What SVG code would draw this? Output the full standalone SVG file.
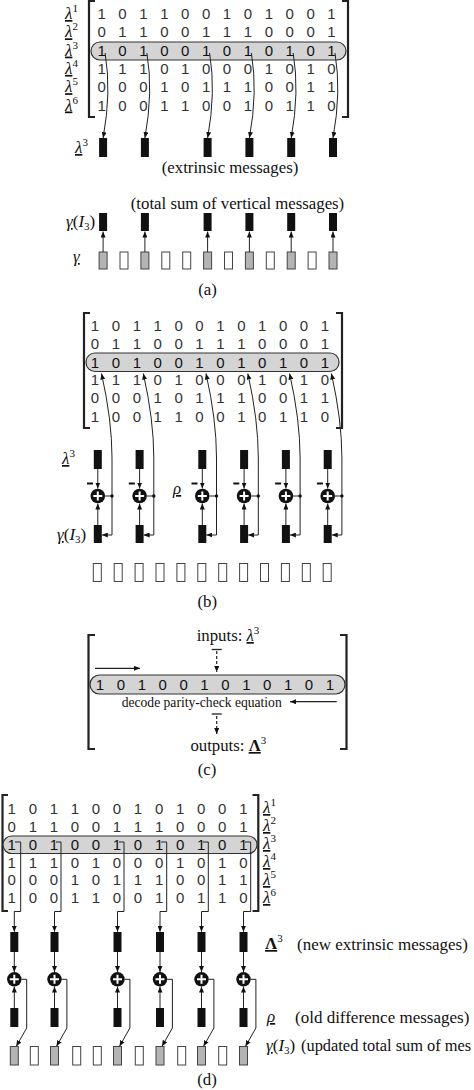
<svg xmlns="http://www.w3.org/2000/svg" width="474" height="1090" viewBox="0 0 474 1090">
<defs>
<style>
.dg{font-family:"Liberation Sans",Arial,sans-serif;font-size:15px;fill:#333;text-anchor:middle}
.lb{font-family:"Liberation Serif","Times New Roman",serif;font-size:17px;fill:#111}
.it{font-style:italic}
.ul{text-decoration:underline}
.cap{font-family:"Liberation Serif","Times New Roman",serif;font-size:16.8px;fill:#111;text-anchor:middle}
.br{fill:none;stroke:#222;stroke-width:2.2}
.hl{fill:#d4d4d4;stroke:#333;stroke-width:1.2}
.ln{fill:none;stroke:#222;stroke-width:1}
.ar{fill:none;stroke:#222;stroke-width:1;marker-end:url(#ah)}
.da{fill:none;stroke:#222;stroke-width:1.2;stroke-dasharray:3 2;marker-end:url(#ah)}
.bk{fill:#111}
.gr{fill:#b4b4b4;stroke:#444;stroke-width:1}
.wh{fill:#fff;stroke:#444;stroke-width:1}
.ad{fill:#111}
.pl{stroke:#fff;stroke-width:2}
</style>
<marker id="ah" viewBox="0 0 6 5" refX="6" refY="2.5" markerWidth="6" markerHeight="5" markerUnits="userSpaceOnUse" orient="auto"><path d="M0,0 L6,2.5 L0,5 z" fill="#111"/></marker>
</defs>
<rect width="474" height="1090" fill="#fff"/>

<!-- ================= PANEL A ================= -->
<g id="panel-a">
<g id="a-matrix">
<path class="br" d="M95,1 H89 V117 H95"/>
<path class="br" d="M342,1 H348 V117 H342"/>
<rect class="hl" x="91" y="42" width="255" height="18" rx="9"/>
<text class="dg" x="101.6 122.5 143.4 164.3 185.2 206.1 227 247.9 268.8 289.7 310.6 331.5" y="19">101100101001</text>
<text class="dg" x="101.6 122.5 143.4 164.3 185.2 206.1 227 247.9 268.8 289.7 310.6 331.5" y="37.3">011001110001</text>
<text class="dg" x="101.6 122.5 143.4 164.3 185.2 206.1 227 247.9 268.8 289.7 310.6 331.5" y="55.6" style="fill:#111">101001010101</text>
<text class="dg" x="101.6 122.5 143.4 164.3 185.2 206.1 227 247.9 268.8 289.7 310.6 331.5" y="73.9">111010001010</text>
<text class="dg" x="101.6 122.5 143.4 164.3 185.2 206.1 227 247.9 268.8 289.7 310.6 331.5" y="92.2">000101110011</text>
<text class="dg" x="101.6 122.5 143.4 164.3 185.2 206.1 227 247.9 268.8 289.7 310.6 331.5" y="110.5">100110010110</text>
</g>
<g id="a-row-labels">
<text class="lb" x="65" y="19"><tspan class="it ul">λ</tspan><tspan font-size="11" dy="-7">1</tspan></text>
<text class="lb" x="65" y="37.3"><tspan class="it ul">λ</tspan><tspan font-size="11" dy="-7">2</tspan></text>
<text class="lb" x="65" y="55.6"><tspan class="it ul">λ</tspan><tspan font-size="11" dy="-7">3</tspan></text>
<text class="lb" x="65" y="73.9"><tspan class="it ul">λ</tspan><tspan font-size="11" dy="-7">4</tspan></text>
<text class="lb" x="65" y="92.2"><tspan class="it ul">λ</tspan><tspan font-size="11" dy="-7">5</tspan></text>
<text class="lb" x="65" y="110.5"><tspan class="it ul">λ</tspan><tspan font-size="11" dy="-7">6</tspan></text>
</g>
<g id="a-extrinsic">
<text class="lb" x="75" y="153"><tspan class="it ul">λ</tspan><tspan font-size="11" dy="-7">3</tspan></text>
<rect class="bk" x="99.1" y="138" width="8" height="19"/>
<rect class="bk" x="140.9" y="138" width="8" height="19"/>
<rect class="bk" x="203.6" y="138" width="8" height="19"/>
<rect class="bk" x="245.4" y="138" width="8" height="19"/>
<rect class="bk" x="287.2" y="138" width="8" height="19"/>
<rect class="bk" x="329" y="138" width="8" height="19"/>
<text class="cap" x="230" y="173">(extrinsic messages)</text>
</g>
<g id="a-total">
<text class="cap" x="237.5" y="209">(total sum of vertical messages)</text>
<text class="lb" x="66" y="227"><tspan class="it ul">γ</tspan>(<tspan class="it">I</tspan><tspan font-size="11" dy="3">3</tspan><tspan dy="-3">)</tspan></text>
<rect class="bk" x="99.1" y="213" width="8" height="18"/>
<rect class="bk" x="140.9" y="213" width="8" height="18"/>
<rect class="bk" x="203.6" y="213" width="8" height="18"/>
<rect class="bk" x="245.4" y="213" width="8" height="18"/>
<rect class="bk" x="287.2" y="213" width="8" height="18"/>
<rect class="bk" x="329" y="213" width="8" height="18"/>
</g>
<g id="a-gamma">
<text class="lb" x="73" y="262"><tspan class="it ul">γ</tspan></text>
<rect class="gr" x="99.1" y="252" width="8" height="17"/>
<rect class="wh" x="120" y="252" width="8" height="17"/>
<rect class="gr" x="140.9" y="252" width="8" height="17"/>
<rect class="wh" x="161.8" y="252" width="8" height="17"/>
<rect class="wh" x="182.7" y="252" width="8" height="17"/>
<rect class="gr" x="203.6" y="252" width="8" height="17"/>
<rect class="wh" x="224.5" y="252" width="8" height="17"/>
<rect class="gr" x="245.4" y="252" width="8" height="17"/>
<rect class="wh" x="266.3" y="252" width="8" height="17"/>
<rect class="gr" x="287.2" y="252" width="8" height="17"/>
<rect class="wh" x="308.1" y="252" width="8" height="17"/>
<rect class="gr" x="329" y="252" width="8" height="17"/>
</g>
<g id="a-connectors">
<path class="ar" d="M105.1,53 Q111.6,92 103.1,138"/>
<path class="ar" d="M146.9,53 Q153.4,92 144.9,138"/>
<path class="ar" d="M209.6,53 Q216.1,92 207.6,138"/>
<path class="ar" d="M251.4,53 Q257.9,92 249.4,138"/>
<path class="ar" d="M293.2,53 Q299.7,92 291.2,138"/>
<path class="ar" d="M335,53 Q341.5,92 333,138"/>
<path class="ar" d="M103.1,252 V231.5"/>
<path class="ar" d="M144.9,252 V231.5"/>
<path class="ar" d="M207.6,252 V231.5"/>
<path class="ar" d="M249.4,252 V231.5"/>
<path class="ar" d="M291.2,252 V231.5"/>
<path class="ar" d="M333,252 V231.5"/>
</g>
<text class="cap" x="207.5" y="295">(a)</text>
</g>

<!-- ================= PANEL B ================= -->
<g id="panel-b">
<g id="b-matrix">
<path class="br" d="M90,313 H84 V428 H90"/>
<path class="br" d="M336,313 H342 V428 H336"/>
<rect class="hl" x="86" y="353" width="253" height="18.5" rx="9"/>
<text class="dg" x="95 115.9 136.8 157.7 178.6 199.5 220.4 241.3 262.2 283.1 304 324.9" y="330.5">101100101001</text>
<text class="dg" x="95 115.9 136.8 157.7 178.6 199.5 220.4 241.3 262.2 283.1 304 324.9" y="348.7">011001110001</text>
<text class="dg" x="95 115.9 136.8 157.7 178.6 199.5 220.4 241.3 262.2 283.1 304 324.9" y="367.5" style="fill:#111">101001010101</text>
<text class="dg" x="95 115.9 136.8 157.7 178.6 199.5 220.4 241.3 262.2 283.1 304 324.9" y="385.1">111010001010</text>
<text class="dg" x="95 115.9 136.8 157.7 178.6 199.5 220.4 241.3 262.2 283.1 304 324.9" y="403.3">000101110011</text>
<text class="dg" x="95 115.9 136.8 157.7 178.6 199.5 220.4 241.3 262.2 283.1 304 324.9" y="421.5">100110010110</text>
</g>
<g id="b-labels">
<text class="lb" x="62" y="464"><tspan class="it ul">λ</tspan><tspan font-size="11" dy="-7">3</tspan></text>
<text class="lb" x="173" y="494"><tspan class="it ul">ρ</tspan></text>
<text class="lb" x="57" y="540"><tspan class="it ul">γ</tspan>(<tspan class="it">I</tspan><tspan font-size="11" dy="3">3</tspan><tspan dy="-3">)</tspan></text>
</g>
<g id="b-lambda-boxes">
<rect class="bk" x="93.8" y="450" width="8" height="19"/>
<rect class="bk" x="135.6" y="450" width="8" height="19"/>
<rect class="bk" x="198.3" y="450" width="8" height="19"/>
<rect class="bk" x="240.1" y="450" width="8" height="19"/>
<rect class="bk" x="281.9" y="450" width="8" height="19"/>
<rect class="bk" x="323.7" y="450" width="8" height="19"/>
</g>
<g id="b-adders">
<rect class="bk" x="87" y="482.5" width="6" height="2"/>
<rect class="bk" x="128.8" y="482.5" width="6" height="2"/>
<rect class="bk" x="191.5" y="482.5" width="6" height="2"/>
<rect class="bk" x="233.3" y="482.5" width="6" height="2"/>
<rect class="bk" x="275.1" y="482.5" width="6" height="2"/>
<rect class="bk" x="316.9" y="482.5" width="6" height="2"/>
<circle class="ad" cx="97.8" cy="496" r="7.3"/><path class="pl" d="M93.3,496 H102.3 M97.8,491.5 V500.5"/>
<circle class="ad" cx="139.6" cy="496" r="7.3"/><path class="pl" d="M135.1,496 H144.1 M139.6,491.5 V500.5"/>
<circle class="ad" cx="202.3" cy="496" r="7.3"/><path class="pl" d="M197.8,496 H206.8 M202.3,491.5 V500.5"/>
<circle class="ad" cx="244.1" cy="496" r="7.3"/><path class="pl" d="M239.6,496 H248.6 M244.1,491.5 V500.5"/>
<circle class="ad" cx="285.9" cy="496" r="7.3"/><path class="pl" d="M281.4,496 H290.4 M285.9,491.5 V500.5"/>
<circle class="ad" cx="327.7" cy="496" r="7.3"/><path class="pl" d="M323.2,496 H332.2 M327.7,491.5 V500.5"/>
</g>
<g id="b-gamma-boxes">
<rect class="bk" x="93.8" y="525" width="8" height="18"/>
<rect class="bk" x="135.6" y="525" width="8" height="18"/>
<rect class="bk" x="198.3" y="525" width="8" height="18"/>
<rect class="bk" x="240.1" y="525" width="8" height="18"/>
<rect class="bk" x="281.9" y="525" width="8" height="18"/>
<rect class="bk" x="323.7" y="525" width="8" height="18"/>
</g>
<g id="b-bottom-boxes">
<rect class="wh" x="93.3" y="563.5" width="8" height="18"/>
<rect class="wh" x="114.2" y="563.5" width="8" height="18"/>
<rect class="wh" x="135.1" y="563.5" width="8" height="18"/>
<rect class="wh" x="156" y="563.5" width="8" height="18"/>
<rect class="wh" x="176.9" y="563.5" width="8" height="18"/>
<rect class="wh" x="197.8" y="563.5" width="8" height="18"/>
<rect class="wh" x="218.7" y="563.5" width="8" height="18"/>
<rect class="wh" x="239.6" y="563.5" width="8" height="18"/>
<rect class="wh" x="260.5" y="563.5" width="8" height="18"/>
<rect class="wh" x="281.4" y="563.5" width="8" height="18"/>
<rect class="wh" x="302.3" y="563.5" width="8" height="18"/>
<rect class="wh" x="323.2" y="563.5" width="8" height="18"/>
</g>
<g id="b-connectors">
<path class="ar" d="M112,496 V458 Q112,420 101.5,373.5"/>
<path class="ar" d="M153.8,496 V458 Q153.8,420 143.3,373.5"/>
<path class="ar" d="M216.5,496 V458 Q216.5,420 206,373.5"/>
<path class="ar" d="M258.3,496 V458 Q258.3,420 247.8,373.5"/>
<path class="ar" d="M300.1,496 V458 Q300.1,420 289.6,373.5"/>
<path class="ar" d="M341.9,496 V458 Q341.9,420 331.4,373.5"/>
<path class="ar" d="M112,496 V535 H101.8"/>
<path class="ar" d="M153.8,496 V535 H143.6"/>
<path class="ar" d="M216.5,496 V535 H206.3"/>
<path class="ar" d="M258.3,496 V535 H248.1"/>
<path class="ar" d="M300.1,496 V535 H289.9"/>
<path class="ar" d="M341.9,496 V535 H331.7"/>
<path class="ln" d="M105.1,496 H112 M146.9,496 H153.8 M209.6,496 H216.5 M251.4,496 H258.3 M293.2,496 H300.1 M335,496 H341.9"/>
<circle class="bk" cx="112" cy="496" r="1.7"/>
<circle class="bk" cx="153.8" cy="496" r="1.7"/>
<circle class="bk" cx="216.5" cy="496" r="1.7"/>
<circle class="bk" cx="258.3" cy="496" r="1.7"/>
<circle class="bk" cx="300.1" cy="496" r="1.7"/>
<circle class="bk" cx="341.9" cy="496" r="1.7"/>
<path class="ar" d="M97.8,469 V488.5"/>
<path class="ar" d="M139.6,469 V488.5"/>
<path class="ar" d="M202.3,469 V488.5"/>
<path class="ar" d="M244.1,469 V488.5"/>
<path class="ar" d="M285.9,469 V488.5"/>
<path class="ar" d="M327.7,469 V488.5"/>
<path class="ar" d="M97.8,525 V503.5"/>
<path class="ar" d="M139.6,525 V503.5"/>
<path class="ar" d="M202.3,525 V503.5"/>
<path class="ar" d="M244.1,525 V503.5"/>
<path class="ar" d="M285.9,525 V503.5"/>
<path class="ar" d="M327.7,525 V503.5"/>
</g>
<text class="cap" x="207.3" y="607">(b)</text>
</g>

<!-- ================= PANEL C ================= -->
<g id="panel-c">
<g id="c-equation">
<path class="br" d="M95,635 H88.5 V749 H95"/>
<path class="br" d="M340,635 H346.5 V749 H340"/>
<rect class="hl" x="90" y="675" width="255" height="19" rx="9.5"/>
<text class="dg" x="100 120.9 141.8 162.7 183.6 204.5 225.4 246.3 267.2 288.1 309 329.9" y="689.8" style="fill:#111">101001010101</text>
</g>
<g id="c-inputs">
<text class="cap" x="228" y="641">inputs: <tspan class="it ul">λ</tspan><tspan font-size="11" dy="-7">3</tspan></text>
</g>
<g id="c-decode">
<text class="cap" x="201.7" y="707" style="font-size:13.6px">decode parity-check equation</text>
</g>
<g id="c-outputs">
<text class="cap" x="228.3" y="751">outputs: <tspan class="ul" font-weight="bold">Λ</tspan><tspan font-size="11" dy="-7">3</tspan></text>
</g>
<g id="c-connectors">
<path class="ln" d="M211.7,649.5 H221.7" style="stroke-width:1.3"/>
<path class="da" d="M216.7,651 V672"/>
<path class="ln" d="M211.7,714 H221.7" style="stroke-width:1.3"/>
<path class="da" d="M216.7,716 V734"/>
<path class="ar" d="M95,668.3 H140" style="stroke-width:1.3"/>
<path class="ar" d="M336.7,701.7 H290" style="stroke-width:1.3"/>
</g>
<text class="cap" x="207" y="775">(c)</text>
</g>

<!-- ================= PANEL D ================= -->
<g id="panel-d">
<g id="d-matrix">
<path class="br" d="M8,795 H2.5 V911 H8"/>
<path class="br" d="M252.5,795 H258.3 V911 H252.5"/>
<rect class="hl" x="3" y="836" width="254" height="17.5" rx="8.7"/>
<text class="dg" x="11.7 32.8 53.8 74.9 95.9 117 138 159.1 180.1 201.2 222.2 243.3" y="813.8">101100101001</text>
<text class="dg" x="11.7 32.8 53.8 74.9 95.9 117 138 159.1 180.1 201.2 222.2 243.3" y="831.7">011001110001</text>
<text class="dg" x="11.7 32.8 53.8 74.9 95.9 117 138 159.1 180.1 201.2 222.2 243.3" y="850" style="fill:#111">101001010101</text>
<text class="dg" x="11.7 32.8 53.8 74.9 95.9 117 138 159.1 180.1 201.2 222.2 243.3" y="867.5">111010001010</text>
<text class="dg" x="11.7 32.8 53.8 74.9 95.9 117 138 159.1 180.1 201.2 222.2 243.3" y="885.4">000101110011</text>
<text class="dg" x="11.7 32.8 53.8 74.9 95.9 117 138 159.1 180.1 201.2 222.2 243.3" y="903.3">100110010110</text>
</g>
<g id="d-row-labels">
<text class="lb" x="263" y="813"><tspan class="it ul">λ</tspan><tspan font-size="11" dy="-7">1</tspan></text>
<text class="lb" x="263" y="831"><tspan class="it ul">λ</tspan><tspan font-size="11" dy="-7">2</tspan></text>
<text class="lb" x="263" y="849"><tspan class="it ul">λ</tspan><tspan font-size="11" dy="-7">3</tspan></text>
<text class="lb" x="263" y="867"><tspan class="it ul">λ</tspan><tspan font-size="11" dy="-7">4</tspan></text>
<text class="lb" x="263" y="885"><tspan class="it ul">λ</tspan><tspan font-size="11" dy="-7">5</tspan></text>
<text class="lb" x="263" y="903"><tspan class="it ul">λ</tspan><tspan font-size="11" dy="-7">6</tspan></text>
</g>
<g id="d-new-extrinsic">
<rect class="bk" x="10.3" y="932" width="8" height="20"/>
<rect class="bk" x="50.5" y="932" width="8" height="20"/>
<rect class="bk" x="113.5" y="932" width="8" height="20"/>
<rect class="bk" x="156" y="932" width="8" height="20"/>
<rect class="bk" x="197.5" y="932" width="8" height="20"/>
<rect class="bk" x="239.5" y="932" width="8" height="20"/>
<text class="lb" x="265" y="949"><tspan class="ul" font-weight="bold">Λ</tspan><tspan font-size="11" dy="-7">3</tspan></text>
<text class="lb" x="297" y="949.5">(new extrinsic messages)</text>
</g>
<g id="d-adders">
<circle class="ad" cx="14.3" cy="979.3" r="7.2"/><path class="pl" d="M9.8,979.3 H18.8 M14.3,974.8 V983.8"/>
<circle class="ad" cx="54.5" cy="979.3" r="7.2"/><path class="pl" d="M50,979.3 H59 M54.5,974.8 V983.8"/>
<circle class="ad" cx="117.5" cy="979.3" r="7.2"/><path class="pl" d="M113,979.3 H122 M117.5,974.8 V983.8"/>
<circle class="ad" cx="160" cy="979.3" r="7.2"/><path class="pl" d="M155.5,979.3 H164.5 M160,974.8 V983.8"/>
<circle class="ad" cx="201.5" cy="979.3" r="7.2"/><path class="pl" d="M197,979.3 H206 M201.5,974.8 V983.8"/>
<circle class="ad" cx="243.5" cy="979.3" r="7.2"/><path class="pl" d="M239,979.3 H248 M243.5,974.8 V983.8"/>
</g>
<g id="d-old-difference">
<rect class="bk" x="10.3" y="1008" width="8" height="19"/>
<rect class="bk" x="50.5" y="1008" width="8" height="19"/>
<rect class="bk" x="113.5" y="1008" width="8" height="19"/>
<rect class="bk" x="156" y="1008" width="8" height="19"/>
<rect class="bk" x="197.5" y="1008" width="8" height="19"/>
<rect class="bk" x="239.5" y="1008" width="8" height="19"/>
<text class="lb" x="267" y="1022"><tspan class="it ul">ρ</tspan></text>
<text class="lb" x="295" y="1023">(old difference messages)</text>
</g>
<g id="d-updated">
<rect class="gr" x="10.3" y="1046.5" width="8" height="18.5"/>
<rect class="wh" x="30.3" y="1046.5" width="8" height="18.5"/>
<rect class="gr" x="50.5" y="1046.5" width="8" height="18.5"/>
<rect class="wh" x="72.7" y="1046.5" width="8" height="18.5"/>
<rect class="wh" x="93.3" y="1046.5" width="8" height="18.5"/>
<rect class="gr" x="113.5" y="1046.5" width="8" height="18.5"/>
<rect class="wh" x="135.3" y="1046.5" width="8" height="18.5"/>
<rect class="gr" x="156" y="1046.5" width="8" height="18.5"/>
<rect class="wh" x="177.7" y="1046.5" width="8" height="18.5"/>
<rect class="gr" x="197.5" y="1046.5" width="8" height="18.5"/>
<rect class="wh" x="218.7" y="1046.5" width="8" height="18.5"/>
<rect class="gr" x="239.5" y="1046.5" width="8" height="18.5"/>
<text class="lb" x="266" y="1051"><tspan class="it ul">γ</tspan>(<tspan class="it">I</tspan><tspan font-size="11" dy="3">3</tspan><tspan dy="-3">)</tspan></text>
<text class="lb" x="301" y="1051" style="font-size:16.4px">(updated total sum of mes</text>
</g>
<g id="d-connectors">
<path class="ar" d="M15,842 H20.7 V911.5 H14.3 V931.8"/>
<path class="ar" d="M56,842 H61 V911.5 H54.5 V931.8"/>
<path class="ar" d="M119,842 H124 V911.5 H117.5 V931.8"/>
<path class="ar" d="M161,842 H166.7 V911.5 H160 V931.8"/>
<path class="ar" d="M202.7,842 H208.3 V911.5 H201.5 V931.8"/>
<path class="ar" d="M245,842 H250.7 V911.5 H243.5 V931.8"/>
<path class="ar" d="M14.3,952 V972"/>
<path class="ar" d="M54.5,952 V972"/>
<path class="ar" d="M117.5,952 V972"/>
<path class="ar" d="M160,952 V972"/>
<path class="ar" d="M201.5,952 V972"/>
<path class="ar" d="M243.5,952 V972"/>
<path class="ar" d="M14.3,1008 V986.6"/>
<path class="ar" d="M54.5,1008 V986.6"/>
<path class="ar" d="M117.5,1008 V986.6"/>
<path class="ar" d="M160,1008 V986.6"/>
<path class="ar" d="M201.5,1008 V986.6"/>
<path class="ar" d="M243.5,1008 V986.6"/>
<path class="ar" d="M21.5,979.3 H26.7 V1028 L16.3,1046.3"/>
<path class="ar" d="M61.7,979.3 H66.9 V1028 L56.5,1046.3"/>
<path class="ar" d="M124.7,979.3 H129.9 V1028 L119.5,1046.3"/>
<path class="ar" d="M167.2,979.3 H172.4 V1028 L162,1046.3"/>
<path class="ar" d="M208.7,979.3 H213.9 V1028 L203.5,1046.3"/>
<path class="ar" d="M250.7,979.3 H255.9 V1028 L245.5,1046.3"/>
</g>
<text class="cap" x="207" y="1085">(d)</text>
</g>
</svg>
